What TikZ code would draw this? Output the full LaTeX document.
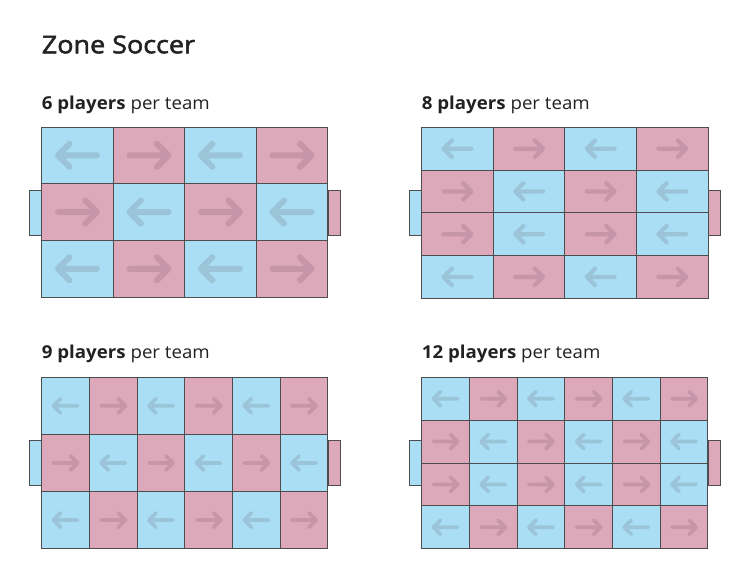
\documentclass[tikz,border=0pt]{standalone}
\usepackage{fontspec}
\setmainfont{Open Sans}
\definecolor{zblue}{RGB}{169,222,245}
\definecolor{zpink}{RGB}{221,169,186}
\definecolor{zarrb}{RGB}{155,196,216}
\definecolor{zarrp}{RGB}{199,149,168}
\definecolor{zline}{RGB}{77,77,77}
\definecolor{ztext}{RGB}{34,34,34}
\newcommand\zarrow[5]{% cx, cy, dir, scale, color
  \draw[line width={#4*6pt}, line cap=round, line join=round, #5]
    ({#1-#3*19.5*#4},#2) -- ({#1+#3*19.5*#4},#2)
    ({#1+#3*8*#4},{#2-11.5*#4}) -- ({#1+#3*19.5*#4},#2) -- ({#1+#3*8*#4},{#2+11.5*#4});}
% x0 y0 lastcol cw rh scale rows(list r/t)
\newcommand\zfield[7]{%
  \foreach \r/\t in {#7} {
    \foreach \c in {0,...,#3} {
      \pgfmathtruncatemacro\k{mod(\c+\t,2)}
      \pgfmathsetmacro\cx{#1+(\c+0.5)*#4}
      \pgfmathsetmacro\cy{#2+(\r+0.5)*#5}
      \ifnum\k=0
        \fill[zblue] ({#1+\c*#4},{#2+\r*#5}) rectangle ++(#4,#5);
        \zarrow{\cx}{\cy}{-1}{#6}{zarrb}
      \else
        \fill[zpink] ({#1+\c*#4},{#2+\r*#5}) rectangle ++(#4,#5);
        \zarrow{\cx}{\cy}{1}{#6}{zarrp}
      \fi
    }
  }
  \foreach \r/\t in {#7} {
    \foreach \c in {0,...,#3} {
      \draw[zline, line width=1pt] ({#1+\c*#4},{#2+\r*#5}) rectangle ++(#4,#5);
    }
  }
}
\begin{document}
\begin{tikzpicture}[x=1pt,y=-1pt,
  goal/.style={line width=1pt, draw=zline},
  ttl/.style={anchor=base west, inner sep=0pt, text=ztext, font=\fontsize{24.5}{28}\selectfont},
  sub/.style={anchor=base west, inner sep=0pt, text=ztext, font=\fontsize{17.8}{21}\selectfont}]
\useasboundingbox (0,0) rectangle (750,581);
\fill[white] (0,0) rectangle (750,581);
% goals
\draw[goal, fill=zblue] (29.3,190) rectangle (41.7,235);
\draw[goal, fill=zpink] (328,190) rectangle (340.3,235);
\draw[goal, fill=zblue] (409.3,190) rectangle (421.7,235);
\draw[goal, fill=zpink] (708,190) rectangle (720.3,235);
\draw[goal, fill=zblue] (29.3,440) rectangle (41.7,485);
\draw[goal, fill=zpink] (328,440) rectangle (340.3,485);
\draw[goal, fill=zblue] (409.3,440) rectangle (421.7,485);
\draw[goal, fill=zpink] (708,440) rectangle (720.3,485);
% fields
\zfield{41.7}{127}{3}{71.5}{56.7}{1}{0/0,1/1,2/0}
\zfield{421.7}{127.3}{3}{71.6}{42.75}{0.71}{0/0,1/1,2/1,3/0}
\zfield{41.7}{377.3}{5}{47.7}{57.1}{0.62}{0/0,1/1,2/0}
\zfield{421.7}{377.3}{5}{47.7}{42.85}{0.62}{0/0,1/1,2/1,3/0}
% texts
\node[ttl] (title) at (41.7,53.3) {\addfontfeature{FakeBold=2,FakeStretch=1.1}Zone Soccer};
\node[sub] (s6) at (41.7,109.3) {\addfontfeature{FakeStretch=1.05}\textbf{6 players} per team};
\node[sub] (s8) at (421.7,109.3) {\addfontfeature{FakeStretch=1.05}\textbf{8 players} per team};
\node[sub] (s9) at (41.7,358.7) {\addfontfeature{FakeStretch=1.05}\textbf{9 players} per team};
\node[sub] (s12) at (421.7,358.7) {\addfontfeature{FakeStretch=1.05}\textbf{12 players} per team};
\end{tikzpicture}
\end{document}
